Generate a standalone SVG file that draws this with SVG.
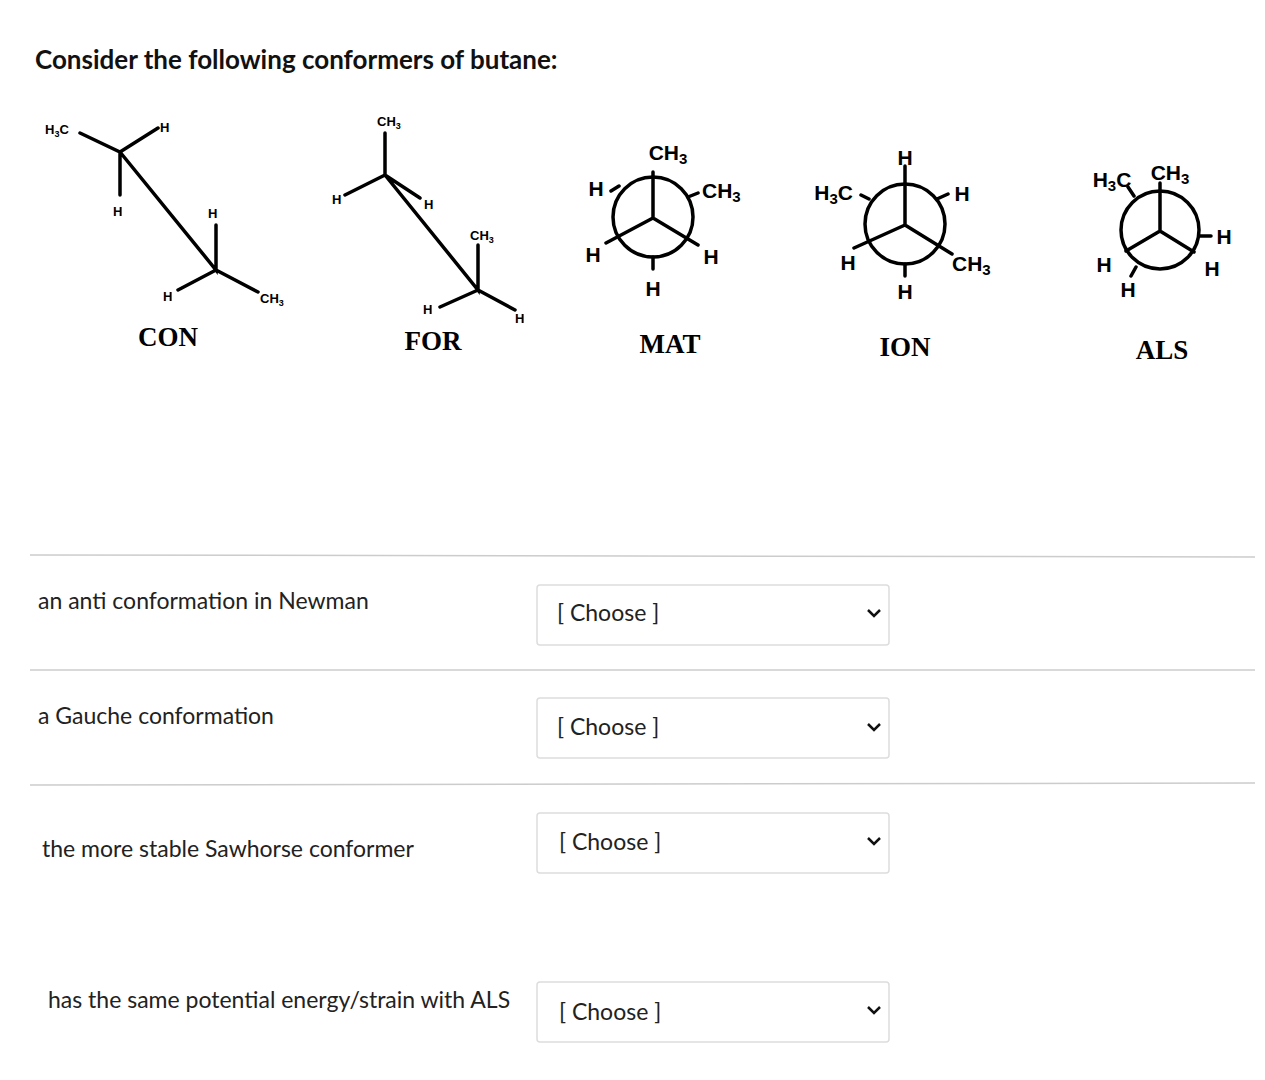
<svg xmlns="http://www.w3.org/2000/svg" width="1265" height="1080" viewBox="0 0 1265 1080">
<style>
.b{stroke:#000;stroke-width:3.5;fill:none;stroke-linecap:round}
.c{stroke:#000;stroke-width:3.5;fill:none}
.s{font-family:"Liberation Sans",Arial,sans-serif;font-weight:bold;font-size:13px;fill:#000}
.n{font-family:"Liberation Sans",Arial,sans-serif;font-weight:bold;font-size:21px;fill:#000}
.t{font-family:"Liberation Serif","Times New Roman",serif;font-weight:bold;font-size:27px;fill:#000}
.q{font-family:Lato,"Open Sans",sans-serif;font-size:23px;fill:#222}
.box{fill:#fff;stroke:#ddd;stroke-width:1.5}
.sep{stroke:#ccc;stroke-width:1.5}
.chev{stroke:#111;stroke-width:2.5;fill:none}
</style>
<rect width="1265" height="1080" fill="#fff"/>
<text x="35" y="69" font-family="Lato,'Open Sans',sans-serif" font-size="26" font-weight="bold" fill="#111">Consider the following conformers of butane:</text>

<g id="CON">
<path class="b" d="M80,133 L120,152 L158,128 M120,152 L120,195 M120,152 L216,270 L216,225 M216,270 L178,290 M216,270 L258,292"/>
<text class="s" x="45" y="134">H<tspan font-size="9" dy="3">3</tspan><tspan dy="-3">C</tspan></text>
<text class="s" x="160" y="132">H</text>
<text class="s" x="113" y="216">H</text>
<text class="s" x="208" y="218">H</text>
<text class="s" x="163" y="301">H</text>
<text class="s" x="260" y="303">CH<tspan font-size="9" dy="3">3</tspan></text>
<text class="t" x="168" y="346" text-anchor="middle">CON</text>
</g>

<g id="FOR">
<path class="b" d="M385,133 L385,175 L345,195 M385,175 L420,198 M385,175 L478,290 L478,245 M478,290 L440,307 M478,290 L515,310"/>
<text class="s" x="377" y="126">CH<tspan font-size="9" dy="3">3</tspan></text>
<text class="s" x="332" y="204">H</text>
<text class="s" x="424" y="209">H</text>
<text class="s" x="470" y="240">CH<tspan font-size="9" dy="3">3</tspan></text>
<text class="s" x="423" y="314">H</text>
<text class="s" x="515" y="323">H</text>
<text class="t" x="433" y="350" text-anchor="middle">FOR</text>
</g>

<g id="MAT">
<circle class="c" cx="653" cy="217" r="40"/>
<path class="b" d="M653,218 L653,172 M653,218 L606,243 M653,218 L698,245 M619,186 L611,191 M688,197 L698,193 M653,257 L653,269"/>
<text class="n" x="668" y="160" text-anchor="middle">CH<tspan font-size="15" dy="4">3</tspan></text>
<text class="n" x="596" y="196" text-anchor="middle">H</text>
<text class="n" x="702" y="198">CH<tspan font-size="15" dy="4">3</tspan></text>
<text class="n" x="593" y="262" text-anchor="middle">H</text>
<text class="n" x="711" y="264" text-anchor="middle">H</text>
<text class="n" x="653" y="296" text-anchor="middle">H</text>
<text class="t" x="670" y="353" text-anchor="middle">MAT</text>
</g>

<g id="ION">
<circle class="c" cx="905" cy="224" r="40"/>
<path class="b" d="M905,225 L905,166 M905,225 L854,248 M905,225 L952,254 M869,199 L861,195 M937,199 L948,194 M905,264 L905,276"/>
<text class="n" x="905" y="165" text-anchor="middle">H</text>
<text class="n" x="853" y="200" text-anchor="end">H<tspan font-size="15" dy="4">3</tspan><tspan dy="-4">C</tspan></text>
<text class="n" x="962" y="201" text-anchor="middle">H</text>
<text class="n" x="848" y="270" text-anchor="middle">H</text>
<text class="n" x="952" y="271">CH<tspan font-size="15" dy="4">3</tspan></text>
<text class="n" x="905" y="299" text-anchor="middle">H</text>
<text class="t" x="905" y="356" text-anchor="middle">ION</text>
</g>

<g id="ALS">
<circle class="c" cx="1160" cy="230" r="39"/>
<path class="b" d="M1160,231 L1160,183 M1160,231 L1126,251 M1160,231 L1194,252 M1134,196 L1128,187 M1199,236 L1211,236 M1136,267 L1131,276"/>
<text class="n" x="1112" y="187" text-anchor="middle">H<tspan font-size="15" dy="4">3</tspan><tspan dy="-4">C</tspan></text>
<text class="n" x="1170" y="180" text-anchor="middle">CH<tspan font-size="15" dy="4">3</tspan></text>
<text class="n" x="1224" y="244" text-anchor="middle">H</text>
<text class="n" x="1104" y="272" text-anchor="middle">H</text>
<text class="n" x="1212" y="276" text-anchor="middle">H</text>
<text class="n" x="1128" y="297" text-anchor="middle">H</text>
<text class="t" x="1162" y="359" text-anchor="middle">ALS</text>
</g>

<g id="form">
<line class="sep" x1="30" y1="555" x2="1255" y2="557"/>
<line class="sep" x1="30" y1="670" x2="1255" y2="670"/>
<line class="sep" x1="30" y1="785" x2="1255" y2="783" stroke="#eee"/>
<text class="q" x="38" y="609">an anti conformation in Newman</text>
<text class="q" x="38" y="724">a Gauche conformation</text>
<text class="q" x="42" y="857" fill="#333">the more stable Sawhorse conformer</text>
<text class="q" x="48" y="1008" fill="#444">has the same potential energy/strain with ALS</text>
<rect class="box" x="537" y="585" width="352" height="60" rx="3"/>
<rect class="box" x="537" y="698" width="352" height="60" rx="3"/>
<rect class="box" x="537" y="813" width="352" height="60" rx="3" stroke="#eee"/>
<rect class="box" x="537" y="982" width="352" height="60" rx="3" stroke="#f2f2f2"/>
<text class="q" x="557" y="621">[ Choose ]</text>
<text class="q" x="557" y="735">[ Choose ]</text>
<text class="q" x="559" y="850">[ Choose ]</text>
<text class="q" x="559" y="1020" fill="#444">[ Choose ]</text>
<path class="chev" d="M868,610 L874,616 L880,610"/>
<path class="chev" d="M868,724 L874,730 L880,724"/>
<path class="chev" d="M868,838 L874,844 L880,838"/>
<path class="chev" d="M868,1007 L874,1013 L880,1007"/>
</g>
</svg>
